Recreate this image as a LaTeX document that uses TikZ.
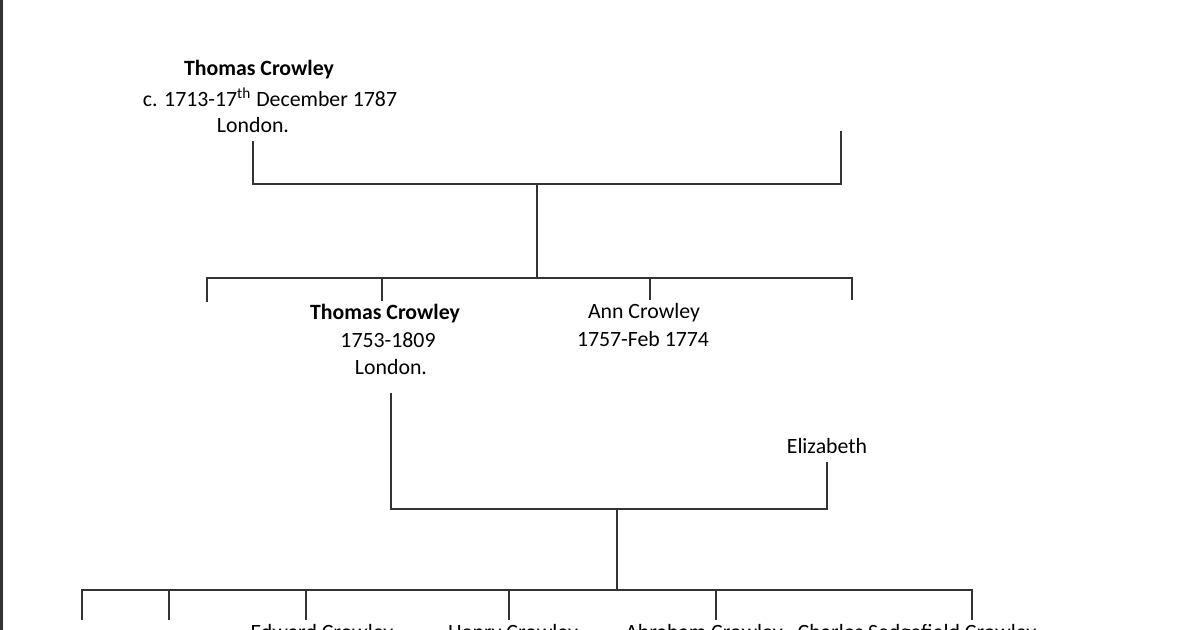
\documentclass[tikz,border=0pt]{standalone}
\usepackage{fontspec}
\setmainfont{Carlito}
\usepackage{tikz}
\usetikzlibrary{calc,positioning}

\begin{document}
\begin{tikzpicture}[x=0.5pt,y=-0.5pt,
  person/.style={inner sep=0pt,outer sep=0pt,font=\fontsize{10.9}{13}\selectfont},
  line/.style={line width=0.6pt,black!80}]
\useasboundingbox (0,0) rectangle (1200,630);
\clip (0,0) rectangle (1200,630);
\fill[black!80] (0,0) rectangle (3,630); % edge of the scan
% first generation
\node[person] (tcName) at (259,70) {\textbf{Thomas Crowley}};
\node[person] (tcDates) at (270,97) {c. 1713-17\textsuperscript{th} December 1787};
\node[person] (tcPlace) at (253,125) {London.};
\coordinate (tcWife) at (841,131);
\coordinate (m1) at (537,184);
\draw[line,shorten <=4pt] (tcPlace.south) |- (m1) -| (tcWife);
% their children
\coordinate (c1) at (537,278);
\coordinate (kidA) at (207,302);
\coordinate (kidD) at (852,300);
\draw[line] (m1) -- (c1);
\draw[line] (kidA) |- (c1) -| (kidD);
\node[person] (tcbName) at (385,314) {\textbf{Thomas Crowley}};
\node[person] (tcbDates) at (388,340) {1753-1809};
\node[person] (tcbPlace) at (391,367) {London.};
\node[person] (annName) at (644,313) {Ann Crowley};
\node[person] (annDates) at (643,339) {1757-Feb 1774};
\draw[line,shorten <=2pt] ([xshift=-1.5pt]tcbName.north) -- ([xshift=-1.5pt]tcbName.north |- c1);
\draw[line,shorten <=2pt] ([xshift=3pt]annName.north) -- ([xshift=3pt]annName.north |- c1);
% second marriage
\node[person] (eliz) at (827,446) {Elizabeth};
\coordinate (m2) at (617,509);
\draw[line,shorten <=9pt,shorten >=4pt] (tcbPlace.south) |- (m2) -| (eliz.south);
% grandchildren
\coordinate (c2) at (617,590);
\draw[line] (m2) -- (c2);
\coordinate (gA) at (82,620);
\coordinate (gB) at (169,620);
\coordinate (gC) at (306,620);
\coordinate (gD) at (509,620);
\coordinate (gE) at (716,620);
\coordinate (gF) at (972,620);
\draw[line] (gA) |- (c2) -| (gF);
\foreach \g in {gB,gC,gD,gE}
  \draw[line] (\g) -- (\g |- c2);
\node[person,anchor=north] (edward) at (322,624) {Edward Crowley};
\node[person,anchor=north] (henry) at (513,624) {Henry Crowley};
\node[person,anchor=north] (abraham) at (704,624) {Abraham Crowley};
\node[person,anchor=north] (charles) at (917,624) {Charles Sedgefield Crowley};
\end{tikzpicture}
\end{document}
